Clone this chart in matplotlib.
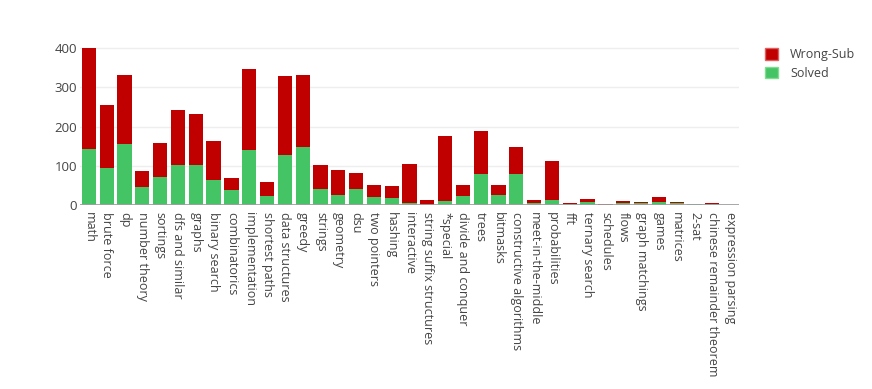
import matplotlib.pyplot as plt
from matplotlib.patches import Patch

plt.rcParams['font.family'] = ['Open Sans', 'DejaVu Sans']

# Problem tags and counts
tags = [
    "math", "brute force", "dp", "number theory", "sortings", "dfs and similar",
    "graphs", "binary search", "combinatorics", "implementation", "shortest paths",
    "data structures", "greedy", "strings", "geometry", "dsu", "two pointers",
    "hashing", "interactive", "string suffix structures", "*special",
    "divide and conquer", "trees", "bitmasks", "constructive algorithms",
    "meet-in-the-middle", "probabilities", "fft", "ternary search", "schedules",
    "flows", "graph matchings", "games", "matrices", "2-sat",
    "chinese remainder theorem", "expression parsing",
]
solved = [143, 94, 155, 46, 71, 102, 102, 64, 38, 140, 23, 127, 148, 41, 25, 41,
          20, 18, 5, 0, 10, 23, 79, 25, 79, 5, 13, 3, 8, 0, 5, 5, 8, 5, 3, 3, 0]
wrong_sub = [257, 161, 176, 41, 87, 140, 130, 99, 31, 207, 36, 202, 183, 61, 64, 41,
             31, 30, 99, 13, 166, 28, 110, 26, 69, 8, 99, 2, 7, 3, 5, 3, 12, 3, 0, 2, 0]

GREEN = "#44c464"
RED = "#c00000"

fig = plt.figure(figsize=(8.72, 3.89), dpi=100)
ax = fig.add_axes([80 / 872, (389 - 205) / 389, 659 / 872, 165 / 389])

x = list(range(len(tags)))
ax.bar(x, solved, width=0.8, color=GREEN, zorder=3)
ax.bar(x, wrong_sub, width=0.8, bottom=solved, color=RED, zorder=3)

ax.set_xlim(-0.5, len(tags) - 0.5)
ax.set_ylim(0, 421)
ax.set_yticks([0, 100, 200, 300, 400])
ax.yaxis.grid(True, color="#eeeeee", linewidth=1, zorder=0)
ax.axhline(0, color="#a0a0a0", linewidth=2, zorder=4)

for s in ax.spines.values():
    s.set_visible(False)

ax.set_xticks(x)
ax.set_xticklabels(tags, rotation=-90, ha="center", va="top")
ax.tick_params(axis="both", length=0, labelsize=9, labelcolor="#444444")
ax.tick_params(axis="x", pad=5)
ax.tick_params(axis="y", pad=2, labelsize=9.5)

handles = [Patch(facecolor=RED, edgecolor="#e06060"),
           Patch(facecolor=GREEN, edgecolor="#80dd90")]
fig.legend(handles, ["Wrong-Sub", "Solved"], loc="upper left",
           bbox_to_anchor=(754 / 872, 1 - 37 / 389), frameon=False,
           fontsize=9, labelcolor="#444444", handlelength=1.0, handleheight=1.0,
           handletextpad=1.0, labelspacing=0.45)

fig.savefig("out.png", dpi=100)
